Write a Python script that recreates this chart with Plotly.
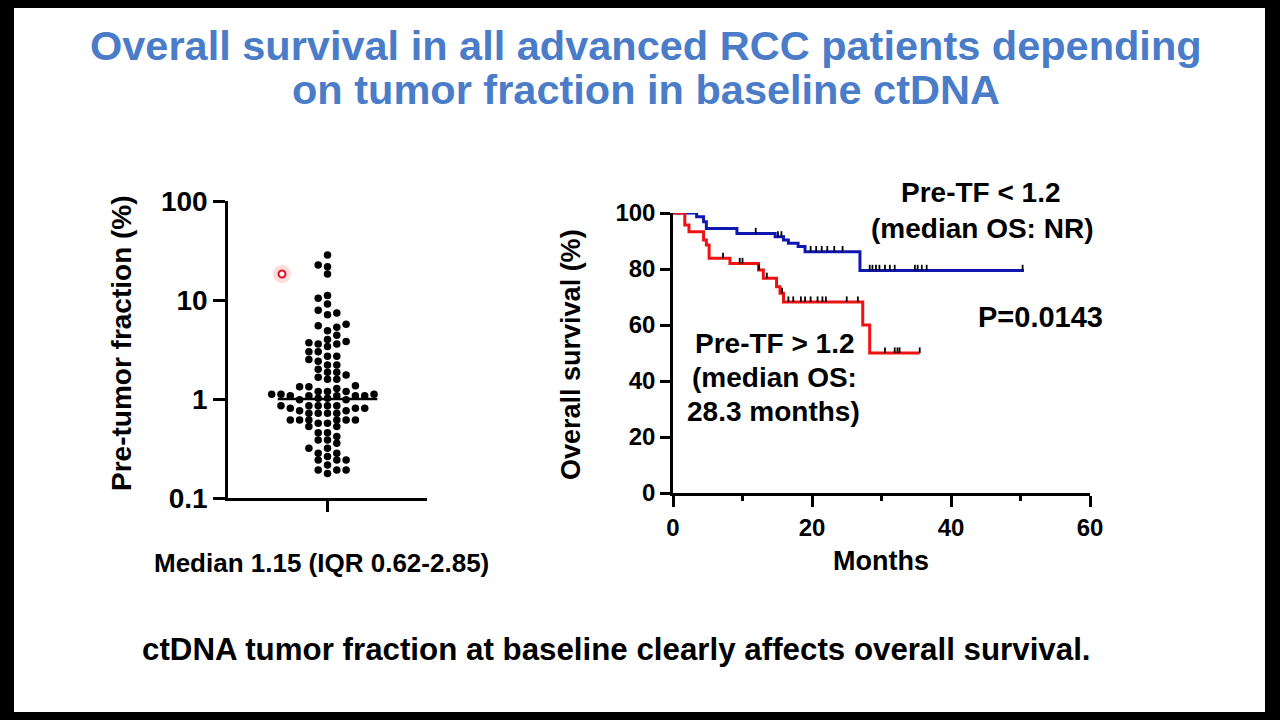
import numpy as np
import plotly.graph_objects as go

W, H = 1280, 720

# ---------------- data ----------------
# Pre-treatment tumor fraction (%) for each patient
tf_values = [28.5, 22.6, 21.7, 18.3, 11.1, 10.4, 9.1, 7.9, 7.4, 7.1,
             5.7, 5.5, 5.3, 4.9, 4.4, 4.0, 3.8, 3.7, 3.6, 3.6,
             3.4, 3.0, 3.0, 2.7, 2.7, 2.5, 2.4, 2.2, 2.2, 2.0,
             1.86, 1.86, 1.75, 1.66, 1.58, 1.58, 1.36, 1.33, 1.33, 1.28,
             1.19, 1.19, 1.19, 1.12, 1.12, 1.12, 1.08, 1.08, 1.08, 1.08,
             1.08, 1.02, 1.02, 0.98, 0.98,
             0.857, 0.857, 0.857, 0.857, 0.857, 0.805, 0.805, 0.805, 0.762, 0.762,
             0.717, 0.717, 0.717, 0.717, 0.614, 0.614, 0.614, 0.614, 0.614, 0.614,
             0.568, 0.568, 0.526, 0.526, 0.457, 0.457, 0.417, 0.385, 0.385, 0.357,
             0.318, 0.318, 0.283, 0.283, 0.262, 0.242, 0.242, 0.242, 0.216,
             0.192, 0.192, 0.192, 0.177]
tf_median_line = 1.0
tf_ticks = [0.1, 1, 10, 100]
tf_ticktext = ["0.1", "1", "10", "100"]

# Kaplan-Meier: Pre-TF < 1.2 (blue)
km_low_t = [0, 3.4, 4.4, 4.8, 9.2, 14.7, 15.9, 16.6, 18.0, 19.0, 26.9, 50.5]
km_low_s = [100, 98.7, 96.9, 94.5, 92.7, 91.5, 90.4, 89.2, 88.0, 86.2, 79.5, 79.5]
km_low_cens = [1.6, 11.9, 15.1, 15.6, 19.8, 20.6, 21.4, 22.2, 23.2, 24.4,
               28.3, 28.7, 29.2, 29.7, 30.5, 31.2, 31.9, 34.8, 35.2, 35.8, 36.5, 50.3]

# Kaplan-Meier: Pre-TF > 1.2 (red)
km_high_t = [0, 1.7, 2.3, 4.4, 4.8, 5.2, 8.2, 12.3, 13.0, 14.9, 15.4, 15.9, 27.3, 28.3, 35.5]
km_high_s = [100, 95.7, 93.3, 90.4, 88.6, 83.8, 82.0, 79.6, 76.7, 73.7, 71.3, 68.2, 60.0, 50.0, 50.0]
km_high_cens = [7.2, 9.6, 10.0, 12.4, 13.5, 15.7, 16.6, 17.3, 18.4, 19.0, 19.8,
                20.8, 21.5, 22.0, 25.0, 26.6, 30.5, 31.9, 32.3, 32.6, 35.5]

km_xticks = [0, 20, 40, 60]
km_xminor = [10, 30, 50]
km_yticks = [0, 20, 40, 60, 80, 100]

FONT = "Liberation Sans"
BLUE_T = "rgb(74,124,200)"
KM_BLUE = "rgb(14,24,176)"
KM_RED = "rgb(238,18,18)"

# ---------------- helpers ----------------
def beeswarm(vals, col_step, min_sep):
    logs = np.log10(np.asarray(vals, dtype=float))
    order = np.argsort(logs, kind="stable")
    cols = {}
    offs = np.zeros(len(logs))
    for n, i in enumerate(order):
        cands = [0]
        for j in range(1, 40):
            cands += ([-j, j] if n % 2 == 0 else [j, -j])
        for c in cands:
            if all(abs(logs[i] - l) >= min_sep for l in cols.get(c, [])):
                cols.setdefault(c, []).append(logs[i])
                offs[i] = c * col_step
                break
    return offs

def step_value(ts, ss, t):
    v = ss[0]
    for ti, si in zip(ts, ss):
        if ti <= t:
            v = si
    return v

def px(x):
    return x / W

def py(y):
    return 1 - y / H

# ---------------- figure ----------------
fig = go.Figure()

# dot plot
offs = beeswarm(tf_values, 0.0935, 0.066)
fig.add_trace(go.Scatter(
    x=[-0.5, 0.5], y=[tf_median_line, tf_median_line], mode="lines",
    line=dict(color="black", width=2.5), xaxis="x", yaxis="y",
    hoverinfo="skip", showlegend=False))
fig.add_trace(go.Scatter(
    x=offs, y=tf_values, mode="markers",
    marker=dict(color="black", size=7.5, line=dict(width=0)),
    xaxis="x", yaxis="y", showlegend=False, cliponaxis=False))

# KM curves
fig.add_trace(go.Scatter(
    x=km_low_t, y=km_low_s, mode="lines", line=dict(color=KM_BLUE, width=3, shape="hv"),
    xaxis="x2", yaxis="y2", showlegend=False, cliponaxis=False))
fig.add_trace(go.Scatter(
    x=km_high_t, y=km_high_s, mode="lines", line=dict(color=KM_RED, width=3, shape="hv"),
    xaxis="x2", yaxis="y2", showlegend=False, cliponaxis=False))

for cens, ts, ss in [(km_low_cens, km_low_t, km_low_s), (km_high_cens, km_high_t, km_high_s)]:
    cy = [step_value(ts, ss, c) for c in cens]
    fig.add_trace(go.Scatter(
        x=cens, y=cy, mode="markers", marker=dict(size=1, color="rgba(0,0,0,0)"),
        error_y=dict(type="data", symmetric=False, array=[2.0] * len(cens),
                     arrayminus=[0] * len(cens), thickness=1.8, width=0, color="black"),
        xaxis="x2", yaxis="y2", showlegend=False, cliponaxis=False))

axis_common = dict(showline=True, linecolor="black", linewidth=2.5, ticks="outside",
                   tickcolor="black", tickwidth=2.5, showgrid=False, zeroline=False,
                   fixedrange=True, automargin=False)

fig.update_layout(
    width=W, height=H, margin=dict(l=0, r=0, t=0, b=0, pad=0, autoexpand=False),
    paper_bgcolor="black", plot_bgcolor="rgba(0,0,0,0)",
    xaxis=dict(domain=[px(228), px(427)], range=[-1, 1], tickvals=[0], ticklen=11,
               showticklabels=False, anchor="y", **axis_common),
    yaxis=dict(domain=[py(498), py(201)], type="log", range=[-1, 2], tickvals=tf_ticks,
               ticktext=tf_ticktext, ticklen=12, anchor="x",
               tickfont=dict(family=FONT, size=28, color="black", weight="bold"), **axis_common),
    xaxis2=dict(domain=[px(673), px(1090)], range=[0, 60], tickvals=km_xticks, ticklen=11,
                minor=dict(tickvals=km_xminor, ticks="outside", ticklen=5, tickwidth=2.5,
                           tickcolor="black"),
                anchor="y2", tickfont=dict(family=FONT, size=24, color="black", weight="bold"),
                **axis_common),
    yaxis2=dict(domain=[py(493), py(213)], range=[0, 100], tickvals=km_yticks, ticklen=10,
                anchor="x2", tickfont=dict(family=FONT, size=24, color="black", weight="bold"),
                **axis_common),
    shapes=[
        dict(type="rect", xref="paper", yref="paper", x0=px(14), x1=px(1265), y0=py(712), y1=py(8),
             fillcolor="white", line=dict(width=0), layer="below"),
        dict(type="circle", xref="paper", yref="paper", x0=px(273), x1=px(291), y0=py(283), y1=py(265),
             fillcolor="rgba(255,60,60,0.18)", line=dict(width=0), layer="above"),
        dict(type="circle", xref="paper", yref="paper", x0=px(278.5), x1=px(285.5), y0=py(277.5), y1=py(270.5),
             fillcolor="rgba(255,255,255,0.9)", line=dict(color="rgb(225,20,40)", width=2), layer="above"),
    ],
)

def ann(text, x, y, size, color="black", xanchor="center", angle=0):
    fig.add_annotation(text=f"<b>{text}</b>", x=px(x), y=py(y), xref="paper", yref="paper",
                       showarrow=False, xanchor=xanchor, yanchor="middle", textangle=angle,
                       font=dict(family=FONT, size=size, color=color))

ann("Overall survival in all advanced RCC patients depending", 646, 45, 41.5, BLUE_T)
ann("on tumor fraction in baseline ctDNA", 646, 89, 41.5, BLUE_T)
ann("Pre-tumor fraction (%)", 121, 343, 28, angle=-90)
ann("Median 1.15 (IQR 0.62-2.85)", 321, 563, 26)
ann("Overall survival (%)", 571, 355, 27, angle=-90)
ann("Months", 881, 561, 27)
ann("Pre-TF < 1.2", 981, 193, 28)
ann("(median OS: NR)", 982, 228, 28)
ann("P=0.0143", 1040, 317, 29)
ann("Pre-TF > 1.2", 693, 343, 28, xanchor="left")
ann("(median OS:", 690, 377, 28, xanchor="left")
ann("28.3 months)", 685, 411, 28, xanchor="left")
ann("ctDNA tumor fraction at baseline clearly affects overall survival.", 616, 649, 31.3)

fig.write_html("out.html")
